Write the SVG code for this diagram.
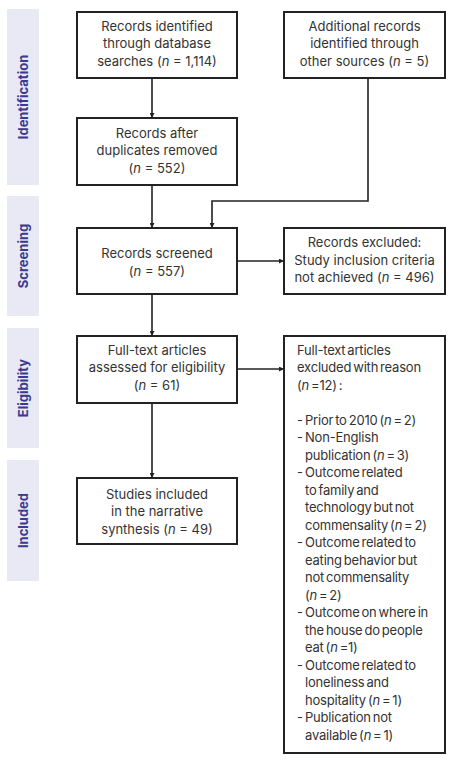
<svg xmlns="http://www.w3.org/2000/svg" width="474" height="765" viewBox="0 0 474 765">
<style>
.band{fill:#e9e9f6}
.bt{font-family:Inter,"Noto Sans",sans-serif;font-size:13px;font-weight:700;fill:#3b3a8e;text-anchor:middle}
.box{fill:#fff;stroke:#222;stroke-width:2}
.t{font-family:Inter,"Noto Sans",sans-serif;font-size:13px;fill:#333;text-anchor:middle}
.l{font-family:Inter,"Noto Sans",sans-serif;font-size:13px;fill:#333;letter-spacing:-0.2px;word-spacing:-1.5px}
.c{fill:none;stroke:#222;stroke-width:1.6}
</style>
<defs>
<marker id="ah" viewBox="0 0 10 10" refX="10" refY="5" markerWidth="5" markerHeight="5" orient="auto" markerUnits="userSpaceOnUse">
<path d="M0,0 L10,5 L0,10 z" fill="#222"/>
</marker>
</defs>
<rect width="474" height="765" fill="#fff"/>
<g id="bands">
<rect class="band" x="7" y="9" width="32" height="176"/>
<text class="bt" transform="translate(27.5,97) rotate(-90)">Identification</text>
<rect class="band" x="7" y="196" width="32" height="120"/>
<text class="bt" transform="translate(27.5,256) rotate(-90)">Screening</text>
<rect class="band" x="7" y="328" width="32" height="120"/>
<text class="bt" transform="translate(27.5,388) rotate(-90)">Eligibility</text>
<rect class="band" x="7" y="460" width="32" height="121"/>
<text class="bt" transform="translate(27.5,520.5) rotate(-90)">Included</text>
</g>
<g id="connectors">
<path class="c" d="M152,78 V118" marker-end="url(#ah)"/>
<path class="c" d="M152,185 V228" marker-end="url(#ah)"/>
<path class="c" d="M368,78 V201 H212 V228" marker-end="url(#ah)"/>
<path class="c" d="M237,261 H284" marker-end="url(#ah)"/>
<path class="c" d="M152,294 V336" marker-end="url(#ah)"/>
<path class="c" d="M237,369 H284" marker-end="url(#ah)"/>
<path class="c" d="M152,403 V478" marker-end="url(#ah)"/>
</g>
<g id="n1">
<rect class="box" x="77" y="12" width="160" height="66"/>
<text class="t" x="157" y="30.5">Records identified</text>
<text class="t" x="157" y="48">through database</text>
<text class="t" x="157" y="65.5">searches (<tspan font-style="italic">n</tspan> = 1,114)</text>
</g>
<g id="n2">
<rect class="box" x="284" y="12" width="161" height="66"/>
<text class="t" x="364.5" y="30.5">Additional records</text>
<text class="t" x="364.5" y="48">identified through</text>
<text class="t" x="364.5" y="65.5">other sources (<tspan font-style="italic">n</tspan> = 5)</text>
</g>
<g id="n3">
<rect class="box" x="77" y="118" width="160" height="67"/>
<text class="t" x="157" y="137.5">Records after</text>
<text class="t" x="157" y="155">duplicates removed</text>
<text class="t" x="157" y="172.5">(<tspan font-style="italic">n</tspan> = 552)</text>
</g>
<g id="n4">
<rect class="box" x="77" y="228" width="160" height="66"/>
<text class="t" x="157" y="257.5">Records screened</text>
<text class="t" x="157" y="275.5">(<tspan font-style="italic">n</tspan> = 557)</text>
</g>
<g id="n5">
<rect class="box" x="284" y="228" width="161" height="66"/>
<text class="t" x="364.5" y="246.5">Records excluded:</text>
<text class="t" x="364.5" y="264.5">Study inclusion criteria</text>
<text class="t" x="364.5" y="281.5">not achieved (<tspan font-style="italic">n</tspan> = 496)</text>
</g>
<g id="n6">
<rect class="box" x="77" y="336" width="160" height="67"/>
<text class="t" x="157" y="354.5">Full-text articles</text>
<text class="t" x="157" y="371.5">assessed for eligibility</text>
<text class="t" x="157" y="389.5">(<tspan font-style="italic">n</tspan> = 61)</text>
</g>
<g id="n7">
<rect class="box" x="77" y="478" width="160" height="66"/>
<text class="t" x="157" y="498.5">Studies included</text>
<text class="t" x="157" y="515.5">in the narrative</text>
<text class="t" x="157" y="533.5">synthesis (<tspan font-style="italic">n</tspan> = 49)</text>
</g>
<g id="n8">
<rect class="box" x="284" y="336" width="161" height="417"/>
<text class="l" x="297" y="354.5">Full-text articles</text>
<text class="l" x="297" y="372">excluded with reason</text>
<text class="l" x="297" y="389.5">(<tspan font-style="italic">n</tspan> =12) :</text>
<text class="l" y="424.5"><tspan x="297">-</tspan><tspan x="305">Prior to 2010 (<tspan font-style="italic">n</tspan> = 2)</tspan></text>
<text class="l" y="442"><tspan x="297">-</tspan><tspan x="305">Non-English</tspan></text>
<text class="l" x="305" y="459.5">publication (<tspan font-style="italic">n</tspan> = 3)</text>
<text class="l" y="477"><tspan x="297">-</tspan><tspan x="305">Outcome related</tspan></text>
<text class="l" x="305" y="494.5">to family and</text>
<text class="l" x="305" y="512">technology but not</text>
<text class="l" x="305" y="529.5">commensality (<tspan font-style="italic">n</tspan> = 2)</text>
<text class="l" y="547"><tspan x="297">-</tspan><tspan x="305">Outcome related to</tspan></text>
<text class="l" x="305" y="564.5">eating behavior but</text>
<text class="l" x="305" y="582">not commensality</text>
<text class="l" x="305" y="599.5">(<tspan font-style="italic">n</tspan> = 2)</text>
<text class="l" y="617"><tspan x="297">-</tspan><tspan x="305">Outcome on where in</tspan></text>
<text class="l" x="305" y="634.5">the house do people</text>
<text class="l" x="305" y="652">eat (<tspan font-style="italic">n</tspan> =1)</text>
<text class="l" y="669.5"><tspan x="297">-</tspan><tspan x="305">Outcome related to</tspan></text>
<text class="l" x="305" y="687">loneliness and</text>
<text class="l" x="305" y="704.5">hospitality (<tspan font-style="italic">n</tspan> = 1)</text>
<text class="l" y="722"><tspan x="297">-</tspan><tspan x="305">Publication not</tspan></text>
<text class="l" x="305" y="739.5">available (<tspan font-style="italic">n</tspan> = 1)</text>
</g>
</svg>
